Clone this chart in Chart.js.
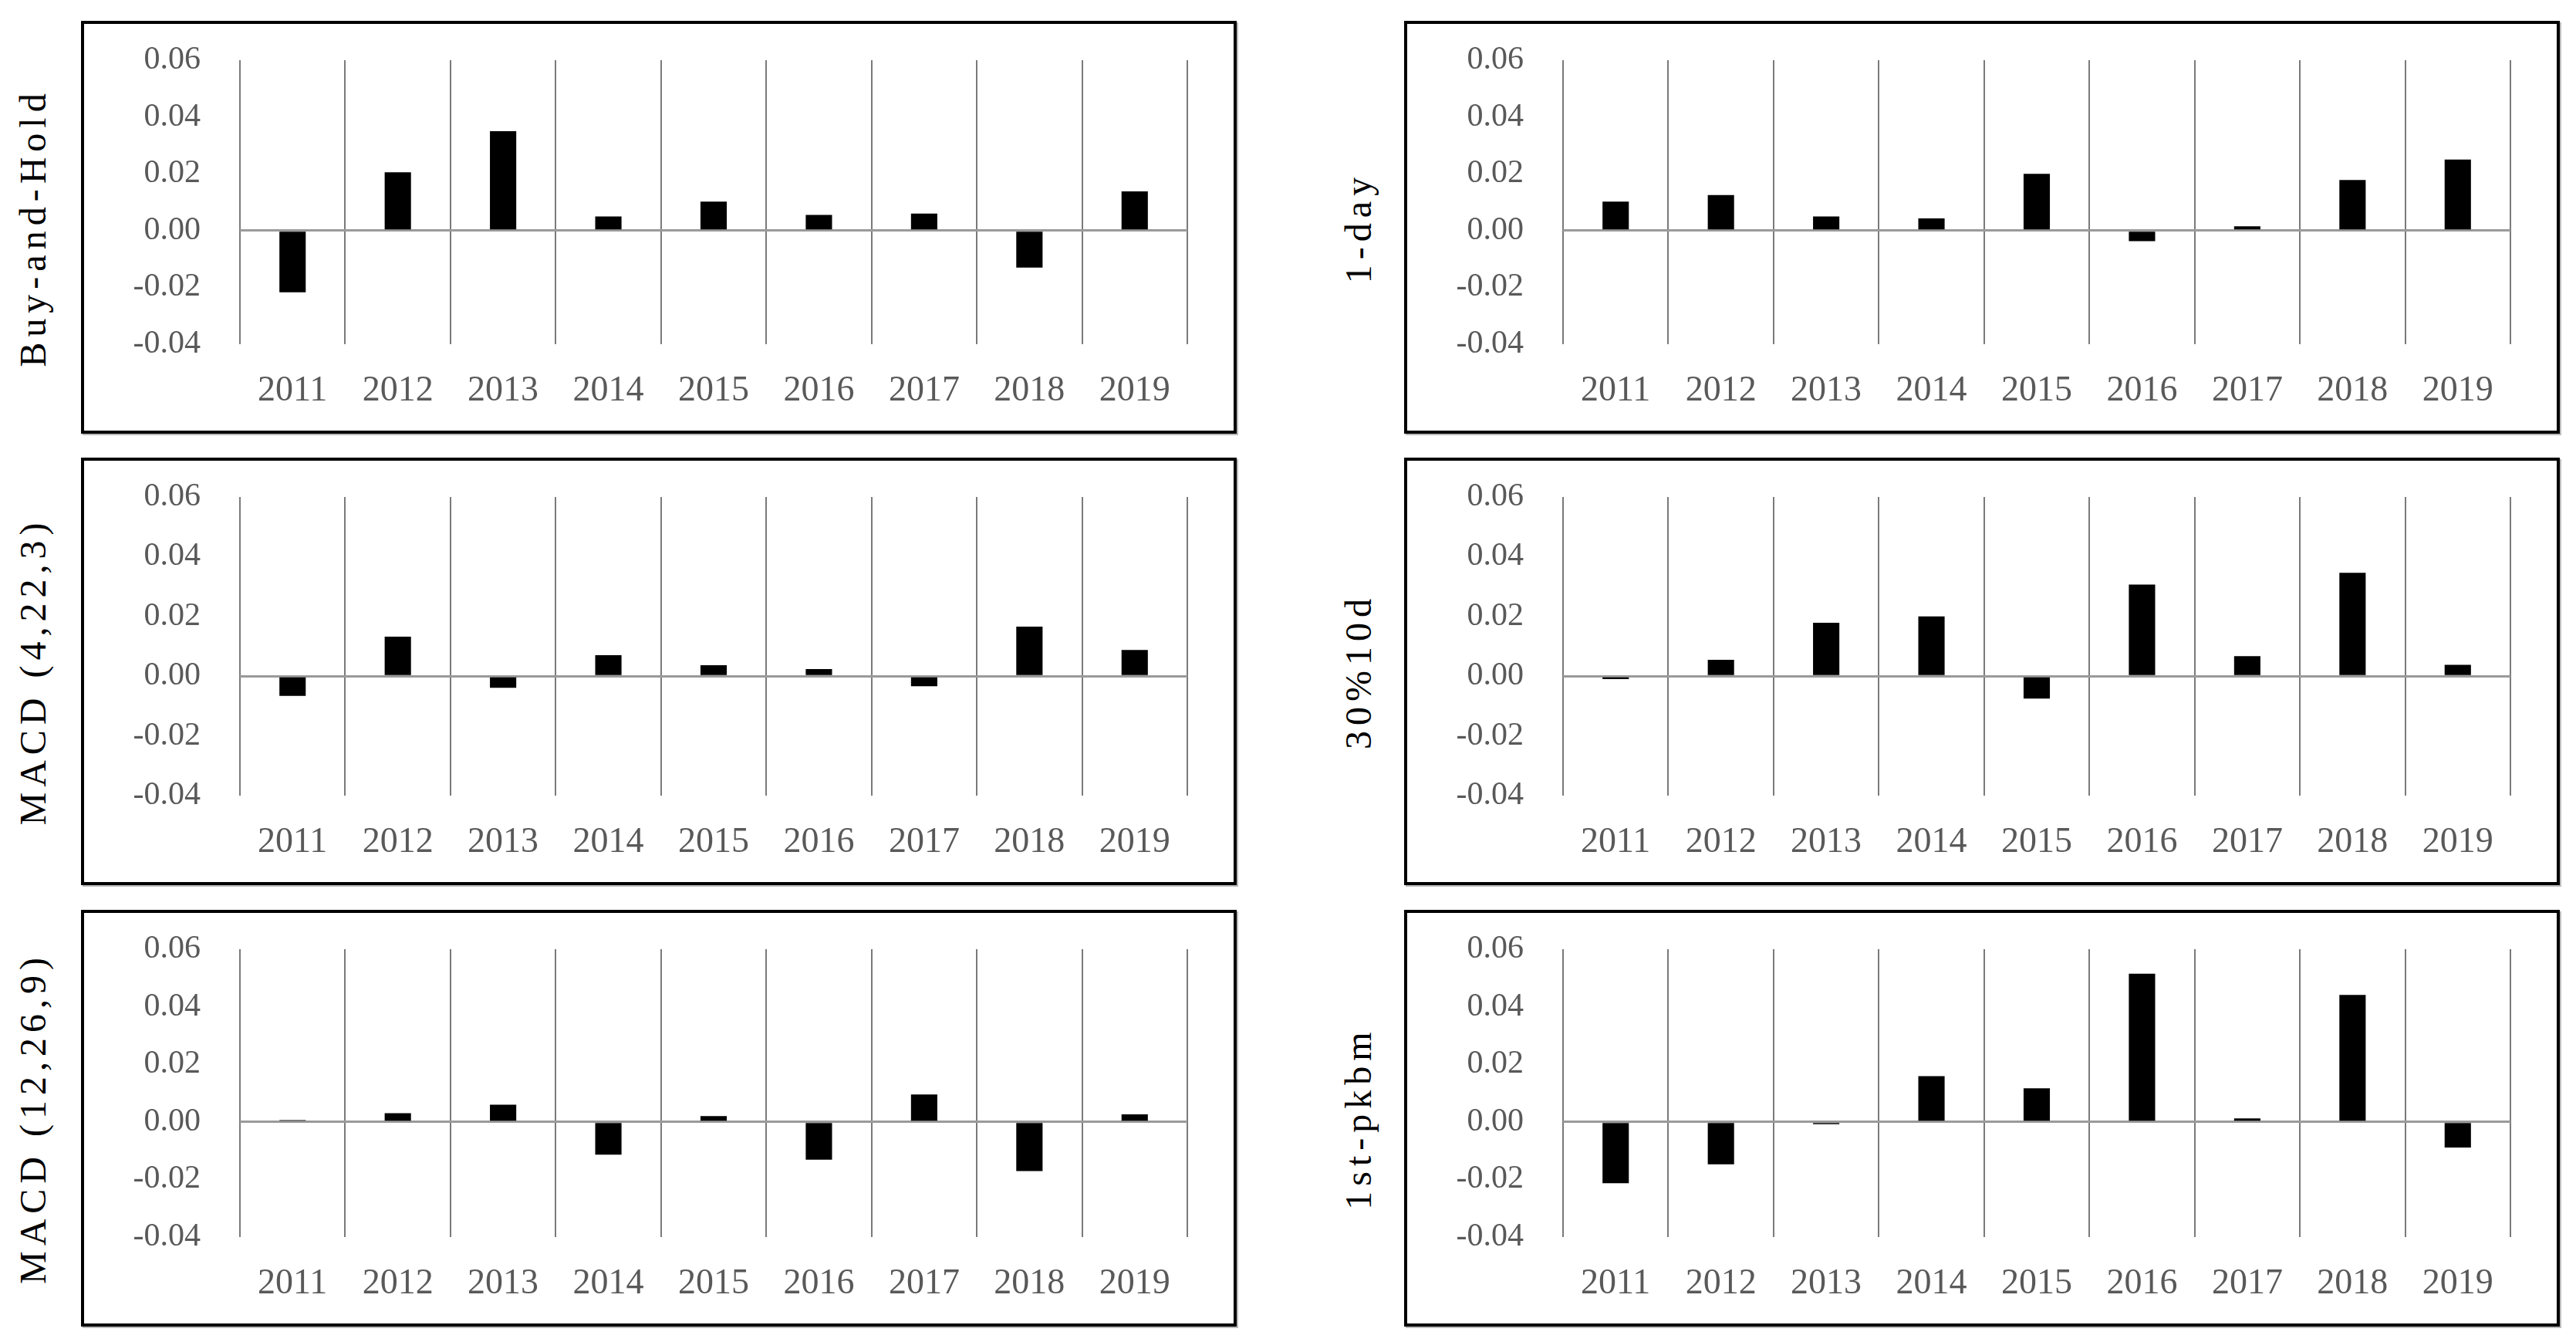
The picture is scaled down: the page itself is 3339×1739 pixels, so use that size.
<!DOCTYPE html>
<html lang="en">
<head>
<meta charset="UTF-8">
<title>Annual returns by strategy, 2011-2019</title>
<script src="https://cdn.jsdelivr.net/npm/chart.js"></script>
<style>
    body { margin: 0; background: #ffffff; width: 3339px; height: 1739px; position: relative; overflow: hidden; }
    .panel { position: absolute; }
    .panel canvas { display: block; }
    .frame { position: absolute; border: 4px solid #000; box-sizing: border-box; pointer-events: none; box-shadow: 2px 2px 0 #bbbbbb; }
    .ytitle {
        position: absolute; font-family: 'Liberation Serif', serif; font-size: 48px; letter-spacing: 7px;
        color: #000; white-space: nowrap; transform: translate(-50%, -50%) rotate(-90deg);
    }
</style>
</head>
<body>
<script>
// DATA
const years = ['2011', '2012', '2013', '2014', '2015', '2016', '2017', '2018', '2019'];
const buyAndHold   = [-0.0217, 0.0205, 0.0350, 0.0050, 0.0102, 0.0055, 0.0060, -0.0130, 0.0138];
const oneDay       = [0.0102, 0.0125, 0.0050, 0.0043, 0.0200, -0.0037, 0.0015, 0.0178, 0.0250];
const macd4_22_3   = [-0.0066, 0.0132, -0.0039, 0.0070, 0.0037, 0.0024, -0.0034, 0.0166, 0.0088];
const pct30_10d    = [-0.0010, 0.0055, 0.0179, 0.0200, -0.0075, 0.0307, 0.0067, 0.0346, 0.0038];
const macd12_26_9  = [0.0006, 0.0030, 0.0060, -0.0114, 0.0020, -0.0131, 0.0095, -0.0171, 0.0026];
const firstPkbm    = [-0.0213, -0.0147, -0.0008, 0.0159, 0.0117, 0.0515, 0.0012, 0.0441, -0.0089];
const yMin = -0.04, yMax = 0.06, yStep = 0.02;

const panels = [
    { title: 'Buy-and-Hold',  values: buyAndHold,  col: 0, row: 0 },
    { title: '1-day',         values: oneDay,      col: 1, row: 0 },
    { title: 'MACD (4,22,3)', values: macd4_22_3,  col: 0, row: 1 },
    { title: '30%10d',        values: pct30_10d,   col: 1, row: 1 },
    { title: 'MACD (12,26,9)',values: macd12_26_9, col: 0, row: 2 },
    { title: '1st-pkbm',      values: firstPkbm,   col: 1, row: 2 }
];

// LAYOUT
const COL_X = [105, 1820];
const TITLE_X = [42, 1760];
const ROW_Y = [27, 593, 1179];
const ROW_H = [535, 554, 540];
const BOX_W = 1498;

const FONT = "'Liberation Serif', 'DejaVu Serif', serif";
const TEXT_GREY = '#595959';
const NONE = 'rgba(0,0,0,0)';

// 1. HELPER: build one framed panel
function makePanel(p) {
    const left = COL_X[p.col], top = ROW_Y[p.row], h = ROW_H[p.row];

    const wrap = document.createElement('div');
    wrap.className = 'panel';
    Object.assign(wrap.style, { left: left + 'px', top: top + 'px', width: BOX_W + 'px', height: h + 'px' });
    const canvas = document.createElement('canvas');
    wrap.appendChild(canvas);
    document.body.appendChild(wrap);

    const frame = document.createElement('div');
    frame.className = 'frame';
    Object.assign(frame.style, { left: left + 'px', top: top + 'px', width: BOX_W + 'px', height: h + 'px' });
    document.body.appendChild(frame);

    const label = document.createElement('div');
    label.className = 'ytitle';
    label.textContent = p.title;
    Object.assign(label.style, { left: TITLE_X[p.col] + 'px', top: (top + h / 2) + 'px' });
    document.body.appendChild(label);

    new Chart(canvas, {
        type: 'bar',
        data: {
            labels: years,
            datasets: [{
                label: p.title,
                data: p.values,
                backgroundColor: '#000000',
                borderWidth: 0,
                barPercentage: 0.25,
                categoryPercentage: 1.0
            }]
        },
        options: {
            responsive: true,
            maintainAspectRatio: false,
            animation: false,
            layout: { padding: { left: 0, right: 64, top: 51, bottom: 0 } },
            plugins: { legend: { display: false }, tooltip: { enabled: false } },
            scales: {
                x: {
                    offset: true,
                    afterFit: s => { s.height = 116; },
                    grid: { display: true, offset: true, drawTicks: false, color: '#7a7a7a', lineWidth: 2 },
                    border: { display: false },
                    ticks: { color: TEXT_GREY, font: { family: FONT, size: 46 }, padding: 33 }
                },
                y: {
                    min: yMin,
                    max: yMax,
                    afterFit: s => { s.width = 206; },
                    // invisible tick marks push the labels away from the plot
                    // (ticks.padding would also pad the top of the chart area)
                    grid: {
                        drawTicks: true,
                        tickLength: 51,
                        tickColor: NONE,
                        color: c => Math.abs(c.tick.value) < 1e-9 ? '#9a9a9a' : NONE,
                        lineWidth: 3
                    },
                    border: { display: false },
                    ticks: {
                        stepSize: yStep,
                        padding: 0,
                        color: TEXT_GREY,
                        font: { family: FONT, size: 42 },
                        callback: v => (Math.abs(v) < 1e-9 ? 0 : v).toFixed(2)
                    }
                }
            }
        }
    });
}

panels.forEach(makePanel);
</script>
</body>
</html>
